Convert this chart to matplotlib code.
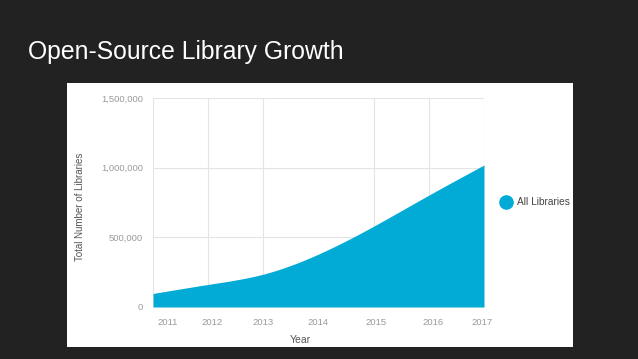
import numpy as np
import matplotlib
matplotlib.use("Agg")
import matplotlib.pyplot as plt
from matplotlib.patches import Rectangle
from matplotlib.lines import Line2D

plt.rcParams['font.family'] = ['Liberation Sans', 'DejaVu Sans']

# Data
years = ["2011", "2012", "2013", "2014", "2015", "2016", "2017"]
libraries = [97000, 162000, 236000, 380000, 580000, 803000, 1019000]
y_ticks = [0, 500000, 1000000, 1500000]
y_tick_labels = ["0", "500,000", "1,000,000", "1,500,000"]
series_name = "All Libraries"

def smooth(xs, ys, n=300):
    """Natural cubic spline through the points (drawing only)."""
    xs = np.asarray(xs, float); ys = np.asarray(ys, float)
    N = len(xs)
    h = np.diff(xs)
    A = np.zeros((N, N)); b = np.zeros(N)
    A[0, 0] = A[-1, -1] = 1
    for i in range(1, N - 1):
        A[i, i-1] = h[i-1]; A[i, i] = 2 * (h[i-1] + h[i]); A[i, i+1] = h[i]
        b[i] = 3 * ((ys[i+1] - ys[i]) / h[i] - (ys[i] - ys[i-1]) / h[i-1])
    c = np.linalg.solve(A, b)
    xo = np.linspace(xs[0], xs[-1], n)
    yo = np.empty_like(xo)
    for k, x in enumerate(xo):
        i = min(np.searchsorted(xs, x, side='right') - 1, N - 2)
        bi = (ys[i+1] - ys[i]) / h[i] - h[i] * (2 * c[i] + c[i+1]) / 3
        di = (c[i+1] - c[i]) / (3 * h[i])
        dx = x - xs[i]
        yo[k] = ys[i] + bi * dx + c[i] * dx**2 + di * dx**3
    return xo, yo

W, H = 638, 359
fig = plt.figure(figsize=(W/100, H/100), dpi=100)
fig.patch.set_facecolor('#222222')

# white panel
panel = Rectangle((67/W, 1 - 347/H), (573-67)/W, (347-83)/H,
                  transform=fig.transFigure, facecolor='white',
                  edgecolor='none', zorder=-5)
fig.add_artist(panel)

fig.text(28/W, 1 - 52/H, "Open-Source Library Growth", color='white',
         fontsize=17.8, va='center', ha='left')

ax = fig.add_axes([153/W, 1 - 307/H, (484-153)/W, (307-98)/H])
ax.set_zorder(2)
ax.set_facecolor('none')
x = np.arange(len(years))
xs, ys = smooth(x, libraries)
ax.fill_between(xs, 0, ys, color='#02ABD6', linewidth=0, zorder=2)

ax.set_xlim(0, len(years) - 1)
ax.set_ylim(0, 1500000)
ax.set_yticks(y_ticks)
ax.set_yticklabels(y_tick_labels)
ax.set_xticks(x, minor=True)
label_pos = [0.27, 1.07, 1.99, 3.0, 4.04, 5.07, 5.96]
ax.set_xticks(label_pos)
ax.set_xticklabels(years)
ax.grid(True, axis='y', color='#e4e4e4', linewidth=0.8, zorder=1)
ax.grid(True, axis='x', which='minor', color='#e4e4e4', linewidth=0.8, zorder=1)
ax.grid(False, axis='x', which='major')
ax.set_axisbelow(True)
for s in ax.spines.values():
    s.set_visible(False)
ax.tick_params(axis='both', which='both', length=0, colors='#9a9a9a', labelsize=6.8)
ax.tick_params(axis='y', pad=7)
ax.tick_params(axis='x', pad=8)

fig.text(80/W, 1 - 207/H, "Total Number of Libraries", rotation=90,
         color='#555555', fontsize=7, ha='center', va='center')
fig.text(300/W, 1 - 340/H, "Year", color='#555555', fontsize=7.5,
         ha='center', va='center')

# legend
fig.add_artist(Line2D([506/W], [1 - 202/H], marker='o', markersize=9.5,
                      color='#02ABD6', linestyle='none', transform=fig.transFigure))
fig.text(517/W, 1 - 202/H, series_name, color='#444444', fontsize=7.3,
         ha='left', va='center')

fig.savefig("out.png", dpi=100, facecolor=fig.get_facecolor())
